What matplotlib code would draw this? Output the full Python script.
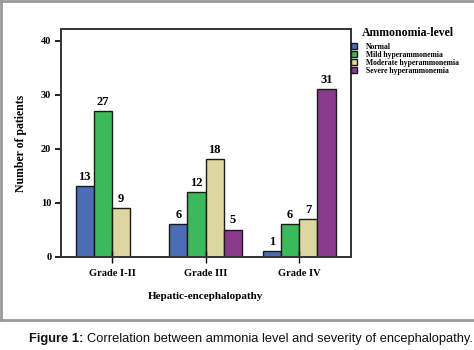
import matplotlib
matplotlib.use("Agg")
import matplotlib.pyplot as plt
import numpy as np
from matplotlib.lines import Line2D

categories = ["Grade I-II", "Grade III", "Grade IV"]
series_names = ["Normal", "Mild hyperammonemia", "Moderate hyperammonemia", "Severe hyperammonemia"]
normal = [13, 6, 1]
mild = [27, 12, 6]
moderate = [9, 18, 7]
severe = [0, 5, 31]
colors = ["#4a6db5", "#3cb95a", "#dcd6a0", "#8b3b8c"]
yticks = [0, 10, 20, 30, 40]

serif = ["Liberation Serif", "DejaVu Serif"]
sans = ["Liberation Sans", "DejaVu Sans"]

fig = plt.figure(figsize=(4.74, 3.5), dpi=100)
ax = fig.add_axes([61/474, 1-256.7/350, (350.7-61)/474, (256.7-29.3)/350])

x = np.arange(len(categories))
w = 0.195
data = [normal, mild, moderate, severe]
for i, (vals, c, name) in enumerate(zip(data, colors, series_names)):
    pos = x + (i - 1.5) * w
    ax.bar(pos, vals, w, color=c, edgecolor="#1a1a1a", linewidth=1.0, label=name)
    for p, v in zip(pos, vals):
        if v > 0:
            ax.text(p, v + 0.6, str(v), ha="center", va="bottom", family=serif,
                    fontweight="bold", fontsize=9)

ax.set_xlim(-0.545, 2.55)
ax.set_ylim(0, 42.1)
ax.set_yticks(yticks)
ax.set_xticks(x)
ax.set_xticklabels(categories, family=serif, fontweight="bold", fontsize=7.5)
ax.set_yticklabels([str(t) for t in yticks], family=serif, fontweight="bold", fontsize=7.5)
ax.tick_params(axis="y", direction="out", length=4, width=1.2, pad=3)
ax.tick_params(axis="x", direction="inout", length=8, width=1.0, pad=5)
for s in ax.spines.values():
    s.set_linewidth(1.4)
    s.set_color("#333333")

ax.set_ylabel("Number of patients", family=serif, fontweight="bold", fontsize=8.5, labelpad=10)
ax.set_xlabel("Hepatic-encephalopathy", family=serif, fontweight="bold", fontsize=8, labelpad=10)

fig.text(362/474, 1-33/350, "Ammonomia-level", family=serif, fontweight="bold",
         fontsize=8.5, ha="left", va="center")
ax.legend(loc="upper left", bbox_to_anchor=(1.0, 1-(43-29.3)/(256.7-29.3)), frameon=False,
          prop={"family": serif, "weight": "bold", "size": 5.5},
          handlelength=0.8, handleheight=0.8, handletextpad=1.2,
          labelspacing=0.0, borderaxespad=0, borderpad=0)

# caption
cy = 1 - 339/350
t1 = fig.text(29/474, cy, "Figure 1: ", family=sans, fontweight="bold", fontsize=9.3,
              ha="left", va="center", color="#111111")
fig.canvas.draw()
bb = t1.get_window_extent(renderer=fig.canvas.get_renderer())
x1 = bb.x1 / fig.bbox.width
fig.text(x1, cy, "Correlation between ammonia level and severity of encephalopathy.",
         family=sans, fontsize=9.3, ha="left", va="center", color="#111111")

# gray frame
fig.add_artist(Line2D([0, 1], [1-1/350, 1-1/350], color="#999999", lw=2, transform=fig.transFigure))
fig.add_artist(Line2D([1/474, 1/474], [1, 1-320/350], color="#999999", lw=2, transform=fig.transFigure))
fig.add_artist(Line2D([0, 1], [1-320/350, 1-320/350], color="#999999", lw=2, transform=fig.transFigure))

fig.savefig("out.png", dpi=100)
